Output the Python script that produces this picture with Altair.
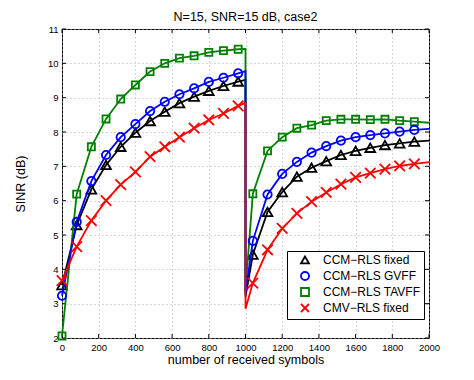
import altair as alt
import pandas as pd

# ---- data ----
series_names = ["CCM−RLS fixed", "CCM−RLS GVFF", "CCM−RLS TAVFF", "CMV−RLS fixed"]
series_colors = ["#000000", "#0000ff", "#008000", "#ff0000"]
series_shapes = ["triangle-up", "circle", "square", "M-1,-1L1,1M-1,1L1,-1"]

x_first = [0, 80, 160, 240, 320, 400, 480, 560, 640, 720, 800, 880, 960]
x_second = [1040, 1120, 1200, 1280, 1360, 1440, 1520, 1600, 1680, 1760, 1840, 1920]
x_switch = 1000
x_end = 2000

black_first = [3.54, 5.29, 6.33, 7.04, 7.57, 7.98, 8.32, 8.59, 8.84, 9.03, 9.20, 9.34, 9.47]
blue_first = [3.23, 5.38, 6.57, 7.33, 7.85, 8.23, 8.61, 8.88, 9.10, 9.27, 9.46, 9.58, 9.71]
green_first = [2.06, 6.19, 7.57, 8.38, 8.96, 9.37, 9.76, 10.00, 10.15, 10.22, 10.32, 10.37, 10.41]
red_first = [3.67, 4.66, 5.42, 6.00, 6.47, 6.84, 7.28, 7.57, 7.85, 8.11, 8.35, 8.54, 8.76]

black_second = [4.43, 5.67, 6.25, 6.70, 6.96, 7.15, 7.33, 7.45, 7.54, 7.62, 7.67, 7.72]
blue_second = [4.83, 6.18, 6.78, 7.13, 7.40, 7.59, 7.75, 7.85, 7.91, 7.96, 8.01, 8.06]
green_second = [6.20, 7.45, 7.85, 8.11, 8.20, 8.33, 8.37, 8.37, 8.36, 8.37, 8.33, 8.30]
red_second = [3.60, 4.57, 5.19, 5.63, 5.97, 6.24, 6.48, 6.68, 6.80, 6.92, 7.01, 7.07]

# values just before / after the switch at 1000 and at the end (2000)
before_switch = [9.52, 9.77, 10.42, 8.85]
after_switch = [3.20, 3.30, 3.40, 2.85]
at_end = [7.75, 8.09, 8.27, 7.12]

x_ticks = [0, 200, 400, 600, 800, 1000, 1200, 1400, 1600, 1800, 2000]
y_ticks = [2, 3, 4, 5, 6, 7, 8, 9, 10, 11]

firsts = [black_first, blue_first, green_first, red_first]
seconds = [black_second, blue_second, green_second, red_second]

line_rows, marker_rows = [], []
for i, name in enumerate(series_names):
    xs = x_first + [x_switch, x_switch] + x_second + [x_end]
    ys = firsts[i] + [before_switch[i], after_switch[i]] + seconds[i] + [at_end[i]]
    for k, (x, y) in enumerate(zip(xs, ys)):
        line_rows.append({"series": name, "x": x, "y": y, "idx": k})
    for x, y in zip(x_first + x_second, firsts[i] + seconds[i]):
        marker_rows.append({"series": name, "x": x, "y": y})

lines_df = pd.DataFrame(line_rows)
markers_df = pd.DataFrame(marker_rows)

W, H = 367, 309
FONT = "Liberation Sans"

xscale = alt.Scale(domain=[0, 2000], nice=False, zero=False)
yscale = alt.Scale(domain=[2, 11], nice=False, zero=False)
color_scale = alt.Scale(domain=series_names, range=series_colors)
shape_scale = alt.Scale(domain=series_names, range=series_shapes)

legend_cfg = dict(
    title=None, orient="none", legendX=225, legendY=222,
    strokeColor="black", fillColor="white", padding=3,
    labelFont=FONT, labelFontSize=12, labelColor="black",
    symbolSize=64, symbolStrokeWidth=1.8, rowPadding=0, columnPadding=0,
    labelOffset=12, symbolOffset=9,
)

xaxis = alt.Axis(values=x_ticks, title="number of received symbols", labelFontSize=9.5,
                 labelPadding=4, titlePadding=2, grid=True, format="d",
                 labelOverlap=False, labelFlush=False)
yaxis = alt.Axis(values=y_ticks, title="SINR (dB)", labelFontSize=9.5,
                 labelPadding=4, titlePadding=20, grid=True, format="d",
                 labelOverlap=False, labelFlush=False)

X = alt.X("x:Q", scale=xscale, axis=xaxis)
Y = alt.Y("y:Q", scale=yscale, axis=yaxis)

layers = []
draw_order = [0, 2, 1, 3]
for i in draw_order:
    name = series_names[i]
    ldf = lines_df[lines_df.series == name]
    mdf = markers_df[markers_df.series == name]
    line = alt.Chart(ldf).mark_line(strokeWidth=1.8, interpolate="linear").encode(
        x=X, y=Y,
        color=alt.value(series_colors[i]),
        order="idx:Q",
    )
    size = {0: 95, 1: 70, 2: 50, 3: 110}[i]
    pts = alt.Chart(mdf).mark_point(filled=False, strokeWidth=1.8, size=size, opacity=1).encode(
        x=X, y=Y,
        color=alt.Color("series:N", scale=color_scale, legend=alt.Legend(**legend_cfg)),
        shape=alt.Shape("series:N", scale=shape_scale, legend=alt.Legend(**legend_cfg)),
    )
    layers += [line, pts]

xt = pd.DataFrame({"v": x_ticks})
yt = pd.DataFrame({"v": y_ticks})
tick_layers = [
    alt.Chart(xt).mark_rule(color="black", strokeWidth=1).encode(
        x=alt.X("v:Q", scale=xscale, axis=xaxis), y=alt.value(H), y2=alt.value(H - 4)),
    alt.Chart(xt).mark_rule(color="black", strokeWidth=1).encode(
        x=alt.X("v:Q", scale=xscale, axis=xaxis), y=alt.value(0), y2=alt.value(4)),
    alt.Chart(yt).mark_rule(color="black", strokeWidth=1).encode(
        y=alt.Y("v:Q", scale=yscale, axis=yaxis), x=alt.value(0), x2=alt.value(4)),
    alt.Chart(yt).mark_rule(color="black", strokeWidth=1).encode(
        y=alt.Y("v:Q", scale=yscale, axis=yaxis), x=alt.value(W - 4), x2=alt.value(W)),
]

chart = alt.layer(*tick_layers, *layers).properties(
    width=W, height=H,
    title=alt.TitleParams("N=15, SNR=15 dB, case2", fontSize=12.5, fontWeight="normal",
                          font=FONT, offset=1, color="black"),
    autosize=alt.AutoSizeParams(type="none"),
    padding={"left": 54, "top": 21, "right": 36, "bottom": 33},
).configure_view(
    stroke="black", strokeWidth=1,
).configure_axis(
    domain=False, ticks=False, labelFont=FONT, titleFont=FONT, labelColor="black",
    titleColor="black", titleFontSize=12.5, titleFontWeight="normal",
    gridColor="#b0b0b0", gridDash=[1, 3], gridWidth=1, labelOverlap=False,
)

chart.save("out.html", embed_options={"renderer": "svg", "actions": False})
